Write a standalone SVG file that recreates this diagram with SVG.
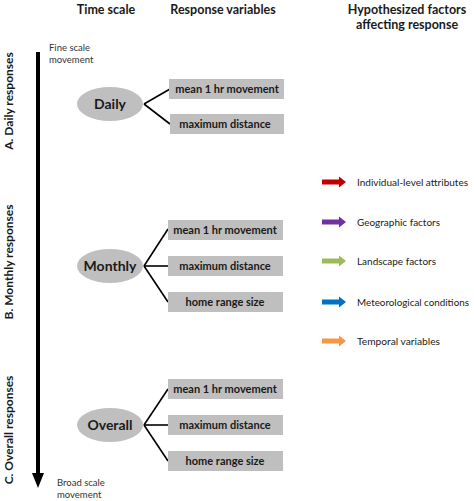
<svg xmlns="http://www.w3.org/2000/svg" width="474" height="501" viewBox="0 0 474 501">
<style>
text{font-family:Lato,"Open Sans","Liberation Sans",sans-serif;fill:#1a1a1a}
.h{font-weight:bold;font-size:12.5px;text-anchor:middle}
.side{font-weight:bold;font-size:12px;text-anchor:middle}
.ell{fill:#bfbfbf}
.en{font-weight:bold;font-size:14px;text-anchor:middle}
.box{fill:#bfbfbf}
.bt{font-weight:bold;font-size:11px;text-anchor:middle}
.note{font-size:9.5px;fill:#333}
.lg{font-size:10.2px}
.con line{stroke:#000;stroke-width:1.6}
</style>
<defs>
<path id="la" d="M0,-2.5 H17 V-5.5 L24,0 L17,5.5 V2.5 H0 Z"/>
</defs>
<g id="titles">
<text class="h" x="106" y="14">Time scale</text>
<text class="h" x="223" y="14">Response variables</text>
<text class="h" x="407" y="14">Hypothesized factors</text>
<text class="h" x="407" y="29">affecting response</text>
</g>
<g id="scale-axis">
<rect x="36" y="52" width="4" height="424" fill="#000"/>
<polygon points="32,473 44,473 38,488" fill="#000"/>
<text class="note" x="49" y="51">Fine scale</text>
<text class="note" x="49" y="63">movement</text>
<text class="note" x="57" y="486">Broad scale</text>
<text class="note" x="57" y="498">movement</text>
</g>
<g id="section-labels">
<text class="side" transform="translate(13,101) rotate(-90)">A.  Daily responses</text>
<text class="side" transform="translate(13,262) rotate(-90)">B.  Monthly responses</text>
<text class="side" transform="translate(13,430) rotate(-90)">C.  Overall responses</text>
</g>
<g class="con" id="connectors">
<line x1="144" y1="104" x2="170" y2="89"/>
<line x1="144" y1="104" x2="170" y2="124"/>
<line x1="144" y1="266" x2="168" y2="229"/>
<line x1="144" y1="266" x2="168" y2="266"/>
<line x1="144" y1="266" x2="168" y2="302"/>
<line x1="144" y1="425" x2="168" y2="389"/>
<line x1="144" y1="425" x2="168" y2="425"/>
<line x1="144" y1="425" x2="168" y2="461"/>
</g>
<g id="daily">
<ellipse class="ell" cx="110" cy="104" rx="33" ry="17"/>
<text class="en" x="110" y="109">Daily</text>
</g>
<g id="daily-mean">
<rect class="box" x="169" y="79" width="115" height="20"/>
<text class="bt" x="227" y="93">mean 1 hr movement</text>
</g>
<g id="daily-max">
<rect class="box" x="170" y="114" width="114" height="20"/>
<text class="bt" x="225" y="128">maximum distance</text>
</g>
<g id="monthly">
<ellipse class="ell" cx="110" cy="266" rx="33" ry="17"/>
<text class="en" x="110" y="271">Monthly</text>
</g>
<g id="monthly-mean">
<rect class="box" x="168" y="220" width="115" height="20"/>
<text class="bt" x="225" y="234">mean 1 hr movement</text>
</g>
<g id="monthly-max">
<rect class="box" x="168" y="256" width="115" height="20"/>
<text class="bt" x="225" y="270">maximum distance</text>
</g>
<g id="monthly-home">
<rect class="box" x="168" y="292" width="115" height="20"/>
<text class="bt" x="225" y="306">home range size</text>
</g>
<g id="overall">
<ellipse class="ell" cx="110" cy="425" rx="33" ry="17"/>
<text class="en" x="110" y="430">Overall</text>
</g>
<g id="overall-mean">
<rect class="box" x="168" y="379" width="115" height="20"/>
<text class="bt" x="225" y="393">mean 1 hr movement</text>
</g>
<g id="overall-max">
<rect class="box" x="168" y="415" width="115" height="20"/>
<text class="bt" x="225" y="429">maximum distance</text>
</g>
<g id="overall-home">
<rect class="box" x="168" y="451" width="115" height="20"/>
<text class="bt" x="225" y="465">home range size</text>
</g>
<g id="legend">
<use href="#la" x="322" y="182" fill="#c00000"/>
<text class="lg" x="357" y="186" textLength="111" lengthAdjust="spacingAndGlyphs">Individual-level attributes</text>
<use href="#la" x="322" y="222" fill="#7030a0"/>
<text class="lg" x="357" y="226" textLength="83" lengthAdjust="spacingAndGlyphs">Geographic factors</text>
<use href="#la" x="322" y="261" fill="#9bbb59"/>
<text class="lg" x="357" y="265" textLength="79" lengthAdjust="spacingAndGlyphs">Landscape factors</text>
<use href="#la" x="322" y="302" fill="#0070c0"/>
<text class="lg" x="357" y="306" font-size="9.6" textLength="112" lengthAdjust="spacingAndGlyphs">Meteorological conditions</text>
<use href="#la" x="322" y="341" fill="#f79646"/>
<text class="lg" x="357" y="345" textLength="83" lengthAdjust="spacingAndGlyphs">Temporal variables</text>
</g>
</svg>
